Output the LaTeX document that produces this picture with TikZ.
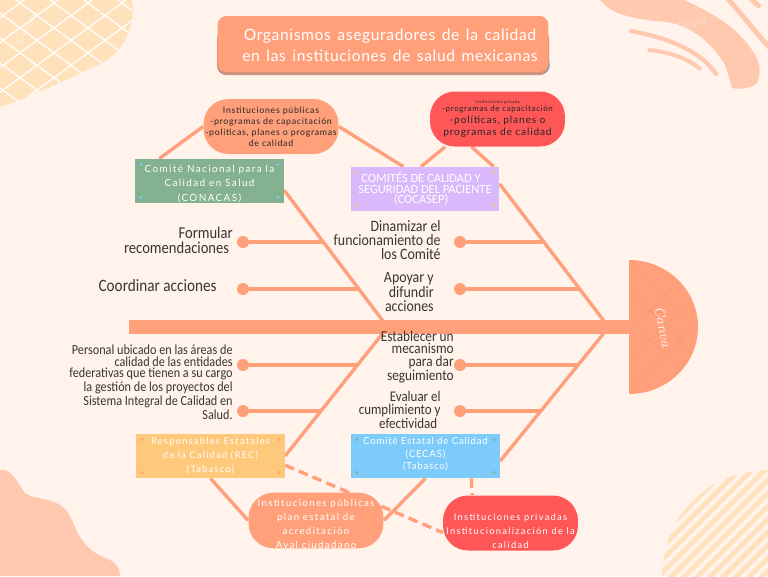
\documentclass[tikz,border=0pt]{standalone}
\usepackage{fontspec}
\usepackage{tikz}
\usetikzlibrary{calc, backgrounds}
\newfontfamily\titlefont[LetterSpace=4,WordSpace=1.4]{Lato}
\newfontfamily\labelfont[FakeStretch=.88]{Carlito}
\newfontfamily\widefont[LetterSpace=14]{Lato}
\newfontfamily\smallfont[LetterSpace=8]{Lato}
\newfontfamily\capsfont{Carlito}
\newcommand{\dropline}[1]{\rule{0pt}{#1}}
\definecolor{pagebg}{HTML}{FFF3EB}
\definecolor{salmon}{HTML}{FFA07A}
\definecolor{blobpeach}{HTML}{FFC9B0}
\definecolor{blobsand}{HTML}{FFE2BC}
\definecolor{boxgreen}{HTML}{84B18F}
\definecolor{boxpurple}{HTML}{D9B9FB}
\definecolor{boxamber}{HTML}{FFC97C}
\definecolor{boxblue}{HTML}{7CCBFB}
\definecolor{ovalred}{HTML}{FF5757}
\definecolor{labeldark}{HTML}{3A3533}
\tikzset{
  bone/.style={salmon, line width=1.9pt},
  rib/.style={salmon, line width=2pt},
  dashbone/.style={salmon, line width=1.9pt, dash pattern=on 5.5pt off 3pt},
  ribdot/.style={circle, fill=salmon, minimum size=.24cm, inner sep=0pt},
  lab/.style 2 args={anchor=east, align=right, inner sep=0pt, text=labeldark, font=\labelfont\fontsize{#1}{#2}\selectfont},
  catbox/.style={rectangle, minimum width=2.97cm, minimum height=.88cm, inner sep=0pt, align=center, text=white, font=\widefont\fontsize{5.65}{8}\selectfont},
  oval/.style={rectangle, rounded corners=.5cm, minimum width=2.7cm, minimum height=1.1cm, inner sep=0pt, align=center}
}
\begin{document}
\begin{tikzpicture}[x=.02cm, y=-.02cm]
  \useasboundingbox (0,0) rectangle (768,576);
  \node (title) at (383,44) [rectangle, rounded corners=.18cm, fill=salmon, minimum width=6.62cm, minimum height=1.12cm, inner sep=0pt, align=center, text=white, font=\titlefont\fontsize{8.9}{12}\selectfont] {\dropline{8pt}\hspace*{8pt}Organismos aseguradores de la calidad\\\hspace*{8pt}en las instituciones de salud mexicanas};
  \node (pubtop) at (271,126.5) [oval, fill=salmon, text=black!85, font=\smallfont\fontsize{5}{6.3}\selectfont] {Instituciones públicas\\-programas de capacitación\\-políticas, planes o programas\\de calidad};
  \node (privtop) at (497.5,119) [oval, fill=ovalred, text=black!85, font=\smallfont\fontsize{5.8}{6.8}\selectfont] {{\fontsize{2.4}{3.4}\selectfont Instituciones privada}\\[-2.3pt]{\fontsize{4.55}{6.6}\selectfont -programas de capacitación}\\-políticas, planes o\\[.5pt]programas de calidad};
  \node (pubbot) at (316,520.5) [oval, fill=salmon, text=white, font=\widefont\fontsize{5.5}{8}\selectfont] {\dropline{7.6pt}Instituciones públicas\\plan estatal de\\acreditación\\Aval ciudadano};
  \node (privbot) at (510.5,523) [oval, fill=ovalred, text=white, font=\widefont\fontsize{5.3}{8}\selectfont] {\dropline{13.5pt}Instituciones privadas\\Institucionalización de la\\calidad};
  \node (conacas) at (209.5,181) [catbox, fill=boxgreen] {\dropline{7.6pt}Comité Nacional para la\\Calidad en Salud\\(CONACAS)};
  \node (cocasep) at (425,189) [catbox, fill=boxpurple, font=\capsfont\fontsize{7.1}{6}\selectfont] {COMITÉS DE CALIDAD Y\hspace*{4.5pt}\\SEGURIDAD DEL PACIENTE\hspace*{4.5pt}\\(COCASEP)\hspace*{4.5pt}};
  \node (rec) at (210.5,456) [catbox, fill=boxamber, font=\widefont\fontsize{5.25}{8}\selectfont] {Responsables Estatales\\de la Calidad (REC)\\(Tabasco)};
  \node (cecas) at (425.5,456) [catbox, fill=boxblue, font=\smallfont\fontsize{5.5}{7.2}\selectfont] {Comité Estatal de Calidad\\(CECAS)\\(Tabasco)\rule[-2.6pt]{0pt}{0pt}};
  \foreach \b/\c in {conacas/boxblue, cocasep/boxamber, rec/salmon, cecas/boxgreen}
    \foreach \p/\q in {north west/{(6,6)}, north east/{(-6,6)}, south west/{(6,-6)}, south east/{(-6,-6)}}
      \fill [\c] (\b.\p) ++\q circle [radius=1.6];
  \node (dotA) at (243,242) [ribdot] {};
  \node (dotB) at (243,289) [ribdot] {};
  \node (dotC) at (460,242) [ribdot] {};
  \node (dotD) at (460,289) [ribdot] {};
  \node (dotE) at (243,365) [ribdot] {};
  \node (dotF) at (243,411) [ribdot] {};
  \node (dotG) at (460,365) [ribdot] {};
  \node (dotH) at (460,411) [ribdot] {};
  \node (labA) at (233,240) [lab={9.45}{8.4}] {Formular\hspace*{0pt}\\recomendaciones\hspace*{2pt}};
  \node (labB) at (217,286) [lab={9.85}{9}] {Coordinar acciones};
  \node (labC) at (441,240) [lab={9}{8.1}] {Dinamizar el\\funcionamiento de\\los Comité};
  \node (labD) at (434,292) [lab={9}{8}] {Apoyar y\\difundir\\acciones};
  \node (labE) at (454,357) [lab={8.6}{7.2}] {Establecer un\\mecanismo\\para dar\\seguimiento};
  \node (labF) at (441,410) [lab={8.4}{7}] {Evaluar el\\cumplimiento y\\efectividad\hspace*{2pt}};
  \node (labG) at (233,382) [lab={7.9}{6.75}] {Personal ubicado en las áreas de\\calidad de las entidades\hspace*{3.4pt}\\federativas que tienen a su cargo\\la gestión de los proyectos del\\Sistema Integral de Calidad en\\Salud.};
  \node (labH) at (663,327) [rotate=-80, text=white!85!salmon, font=\itshape\fontsize{8}{8}\selectfont] {Canva};
  \begin{scope}[on background layer]
    \fill [pagebg] (0,0) rectangle (768,576);
    \begin{scope}
      \clip (0,0) -- (132,0) .. controls (136,25) and (125,52) .. (100,64) .. controls (70,78) and (35,95) .. (0,107) -- cycle;
      \fill [blobsand] (0,0) rectangle (140,110);
      \foreach \i in {-120,-86,...,170}
        \draw [white, line width=.7pt] (\i,0) -- (\i+150,110);
      \foreach \i in {-10,24,...,300}
        \draw [white, line width=.7pt] (\i,0) -- (\i-150,110);
      \foreach \i in {28,64,...,132}
        \draw [white!50!blobsand!80!gray, line width=.3pt, densely dotted] (\i,0) -- (\i-4,110);
      \foreach \i in {18,54,90}
        \draw [white!50!blobsand!80!gray, line width=.3pt, densely dotted] (0,\i) -- (140,\i-8);
    \end{scope}
    \node (markA) at (26,28) [rotate=62, text=white, opacity=.7, font=\itshape\fontsize{6.5}{7}\selectfont] {Canva};
    \fill [blobpeach] (600,0) .. controls (612,16) and (640,20) .. (667,22) .. controls (695,27) and (712,45) .. (724,63) .. controls (728,72) and (730,82) .. (732,88) .. controls (740,90) and (752,88) .. (757,83) .. controls (762,70) and (760,62) .. (752,50) .. controls (735,25) and (710,12) .. (684,0) -- cycle;
    \draw [blobpeach, line width=2.4pt, line cap=round] (631,31) .. controls (665,37) and (700,50) .. (716,74);
    \draw [blobpeach, line width=2.2pt, line cap=round] (649,50) .. controls (672,52) and (690,60) .. (700,69);
    \draw [blobpeach, line width=2.8pt] (727,-2) .. controls (742,14) and (755,32) .. (770,48);
    \draw [blobpeach, line width=2.8pt] (750,-2) -- (760,7);
    \node (markB) at (690,24) [rotate=18, text=white, opacity=.45, font=\itshape\fontsize{6}{7}\selectfont] {Canva};
    \fill [blobpeach] (0,470) .. controls (12,468) and (18,484) .. (25,493) .. controls (35,500) and (50,497) .. (63,507) .. controls (72,515) and (74,528) .. (80,537) .. controls (90,552) and (100,556) .. (110,560) .. controls (116,563) and (120,568) .. (120,576) -- (0,576) -- cycle;
    \begin{scope}
      \clip (768,576) circle [radius=106];
      \foreach \i in {616,629,...,900}
        \draw [blobsand, line width=2.8pt] (\i,580) -- (\i+115,465);
    \end{scope}
    \fill [boxblue, rounded corners=.18cm] (300,56) rectangle (550,74.5);
    \fill [salmon!60!gray, rounded corners=.18cm] (217,30) rectangle (549,75);
    \coordinate (spineL) at (129,327);
    \coordinate (spineR) at (640,327);
    \coordinate (jointA) at (383,321);
    \coordinate (jointB) at (604,321);
    \coordinate (jointC) at (383,333);
    \coordinate (jointD) at (604,333);
    \coordinate (ribA) at (323,242);
    \coordinate (ribB) at (359,289);
    \coordinate (ribC) at (543,242);
    \coordinate (ribD) at (579,289);
    \coordinate (ribE) at (357,365);
    \coordinate (ribF) at (321,411);
    \coordinate (ribG) at (578,365);
    \coordinate (ribH) at (541,411);
    \draw [salmon, line width=8pt] (spineL) -- (spineR);
    \begin{scope}
      \fill [salmon] (629,260) arc [start angle=-90, end angle=90, x radius=69, y radius=67] -- cycle;
      \clip (629,260) arc [start angle=-90, end angle=90, x radius=69, y radius=67] -- cycle;
      \foreach \i in {560,590,...,860}
        \draw [salmon!88!gray, line width=.25pt] (\i,250) -- (\i+150,400);
      \foreach \i in {560,590,...,860}
        \draw [salmon!88!gray, line width=.25pt] (\i,400) -- (\i+150,250);
    \end{scope}
    \draw [bone] (conacas.-7) -- (jointA);
    \draw [bone] (cocasep.4) -- (jointB);
    \draw [bone] (rec.east) -- (jointC);
    \draw [bone] (cecas.-4) -- (jointD);
    \draw [rib] (dotA) -- (ribA);
    \draw [rib] (dotB) -- (ribB);
    \draw [rib] (dotC) -- (ribC);
    \draw [rib] (dotD) -- (ribD);
    \draw [rib] (dotE) -- (ribE);
    \draw [rib] (dotF) -- (ribF);
    \draw [rib] (dotG) -- (ribG);
    \draw [rib] (dotH) -- (ribH);
    \draw [bone] (pubtop.west) -- (conacas.156);
    \draw [bone] (pubtop.east) -- (cocasep.134);
    \draw [bone] (privtop.208) -- (cocasep.100);
    \draw [bone] (privtop.227) -- (cocasep.18);
    \draw [bone] (rec.south) -- (pubbot.west);
    \draw [bone] (cecas.south) -- (pubbot.east);
    \draw [dashbone] (rec.-7) -- (privbot.188);
    \draw [dashbone] (cecas.-26) -- (privbot.144);
  \end{scope}
\end{tikzpicture}
\end{document}
